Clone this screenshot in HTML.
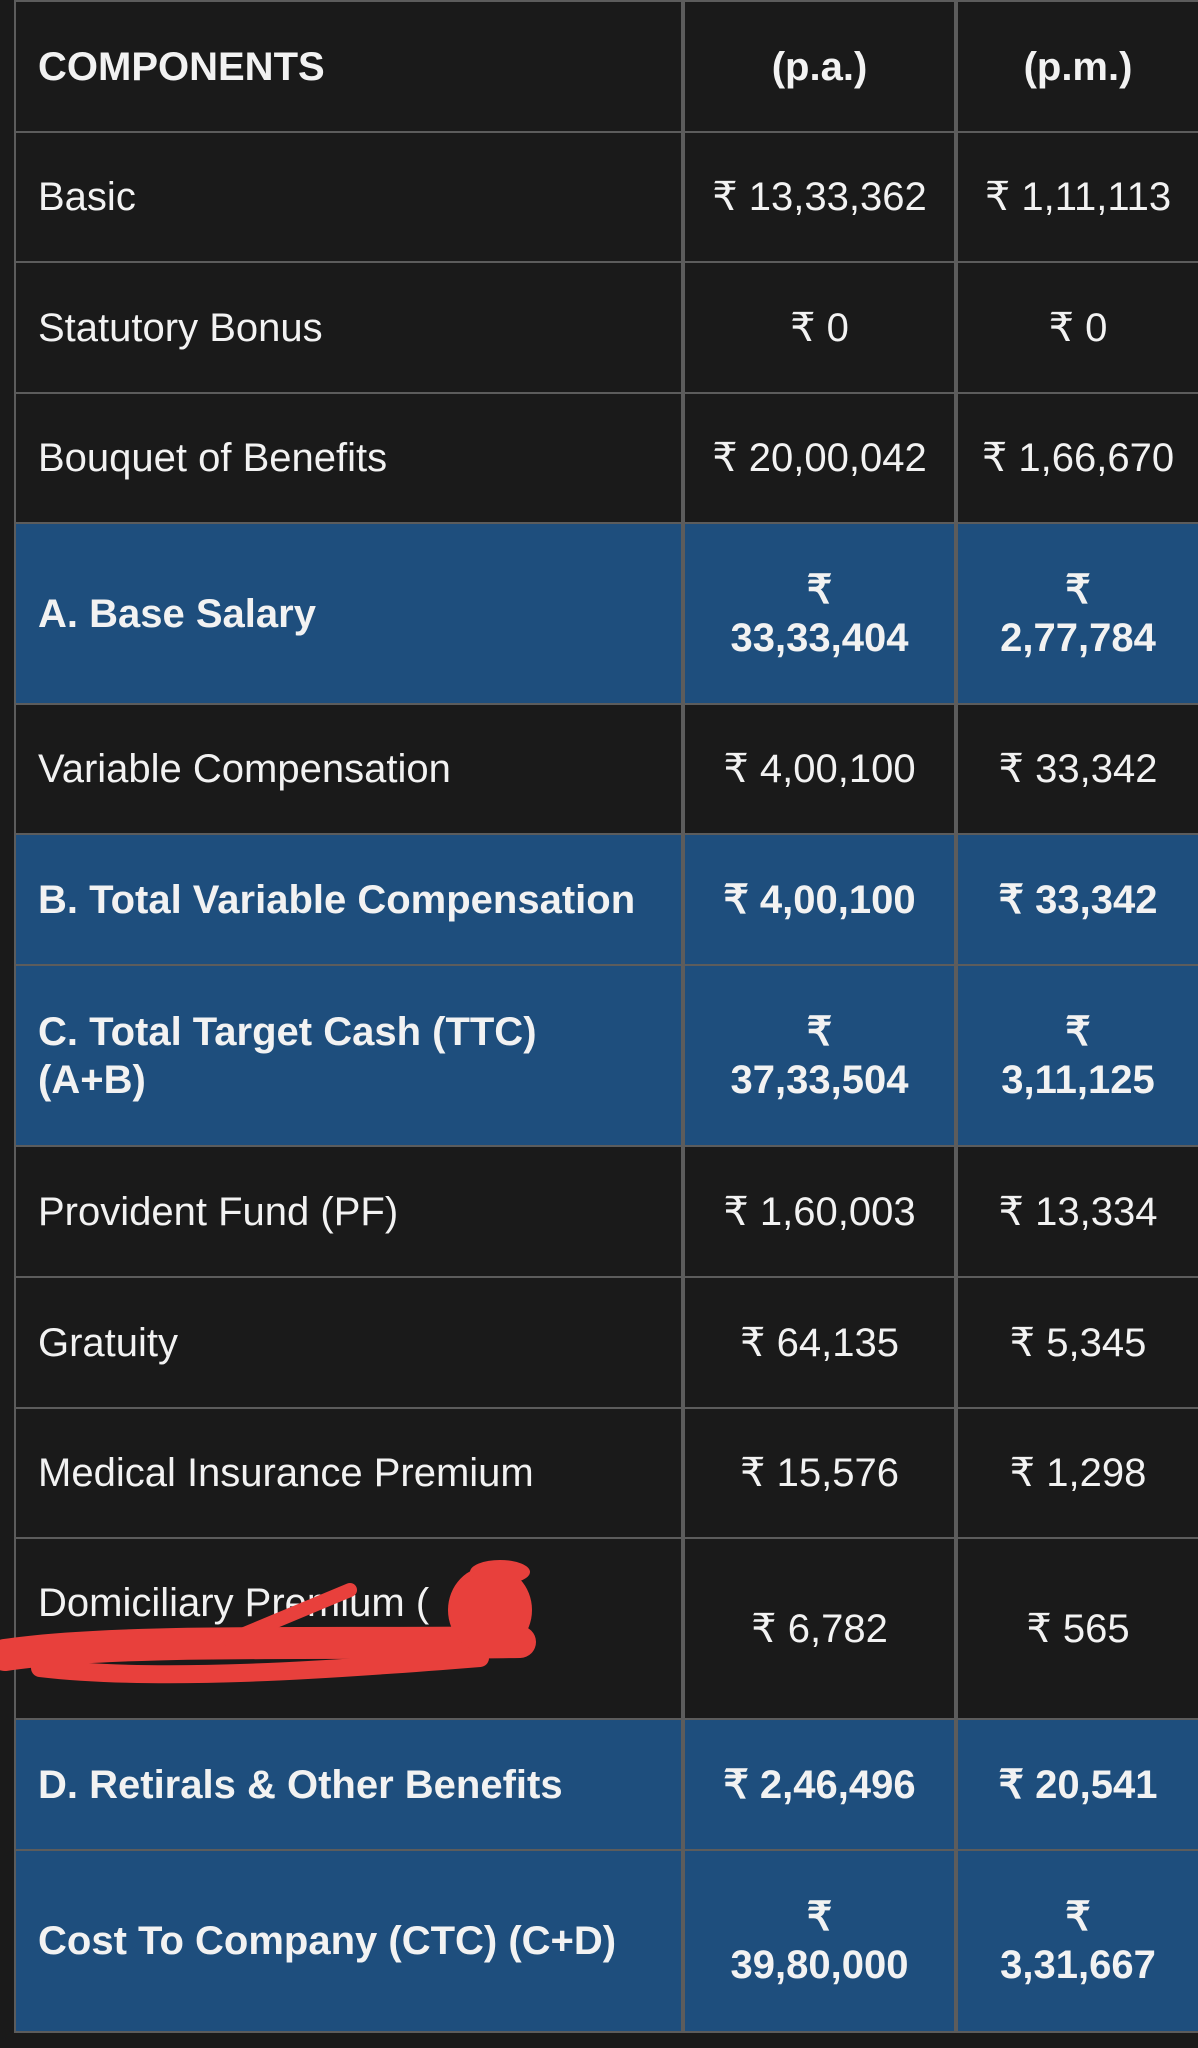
<!DOCTYPE html>
<html><head><meta charset="utf-8"><style>
html,body{margin:0;padding:0;background:#1a1a1a;width:1198px;height:2048px;overflow:hidden}
body{font-family:"Liberation Sans",sans-serif;color:#f2f2f2;position:relative}
.c{position:absolute;box-sizing:border-box;border:2px solid #5c5c5c;display:flex;align-items:center;font-size:40px;line-height:48px}
.l{padding-left:22px}
.r{justify-content:center;text-align:center}
.b{background:#1e4e7d;font-weight:bold}
.h{font-weight:bold}
</style></head><body>
<div id="t"></div>
<script>
var rows=[
["COMPONENTS","(p.a.)","(p.m.)",0,131,"h"],
["Basic","₹ 13,33,362","₹ 1,11,113",131,261,""],
["Statutory Bonus","₹ 0","₹ 0",261,392,""],
["Bouquet of Benefits","₹ 20,00,042","₹ 1,66,670",392,522,""],
["A. Base Salary","₹<br>33,33,404","₹<br>2,77,784",522,703,"b"],
["Variable Compensation","₹ 4,00,100","₹ 33,342",703,833,""],
["B. Total Variable Compensation","₹ 4,00,100","₹ 33,342",833,964,"b"],
["C. Total Target Cash (TTC)<br>(A+B)","₹<br>37,33,504","₹<br>3,11,125",964,1145,"b"],
["Provident Fund (PF)","₹ 1,60,003","₹ 13,334",1145,1276,""],
["Gratuity","₹ 64,135","₹ 5,345",1276,1407,""],
["Medical Insurance Premium","₹ 15,576","₹ 1,298",1407,1537,""],
["Domiciliary Premium (",`₹ 6,782`,"₹ 565",1537,1718,"d"],
["D. Retirals &amp; Other Benefits","₹ 2,46,496","₹ 20,541",1718,1849,"b"],
["Cost To Company (CTC) (C+D)","₹<br>39,80,000","₹<br>3,31,667",1849,2031,"b"]];
var cols=[[14,683],[683,956],[956,1200]];var h="";
rows.forEach(function(r){
 for(var i=0;i<3;i++){
  var cls="c "+(i==0?"l":"r")+" "+(r[5]=="d"?"":r[5]);
  var st="left:"+cols[i][0]+"px;top:"+r[3]+"px;width:"+(cols[i][1]-cols[i][0])+"px;height:"+(r[4]-r[3]+2)+"px;";
  if(r[5]=="d"&&i==0)st+="align-items:flex-start;padding-top:40px;";
  h+='<div class="'+cls+'" style="'+st+'"><div>'+r[i]+'</div></div>';
 }});
document.getElementById("t").innerHTML=h;
</script>
<svg width="1198" height="2048" style="position:absolute;left:0;top:0">
<path d="M5,1655 C120,1638 330,1645 520,1642" stroke="#e8403c" stroke-width="32" fill="none" stroke-linecap="round"/>
<path d="M40,1668 C160,1682 330,1670 480,1658" stroke="#e8403c" stroke-width="18" fill="none" stroke-linecap="round"/>
<path d="M230,1640 L350,1590" stroke="#e8403c" stroke-width="14" fill="none" stroke-linecap="round"/>
<ellipse cx="490" cy="1610" rx="42" ry="44" fill="#e8403c"/>
<ellipse cx="500" cy="1572" rx="30" ry="12" fill="#e8403c"/>
</svg>
</body></html>
